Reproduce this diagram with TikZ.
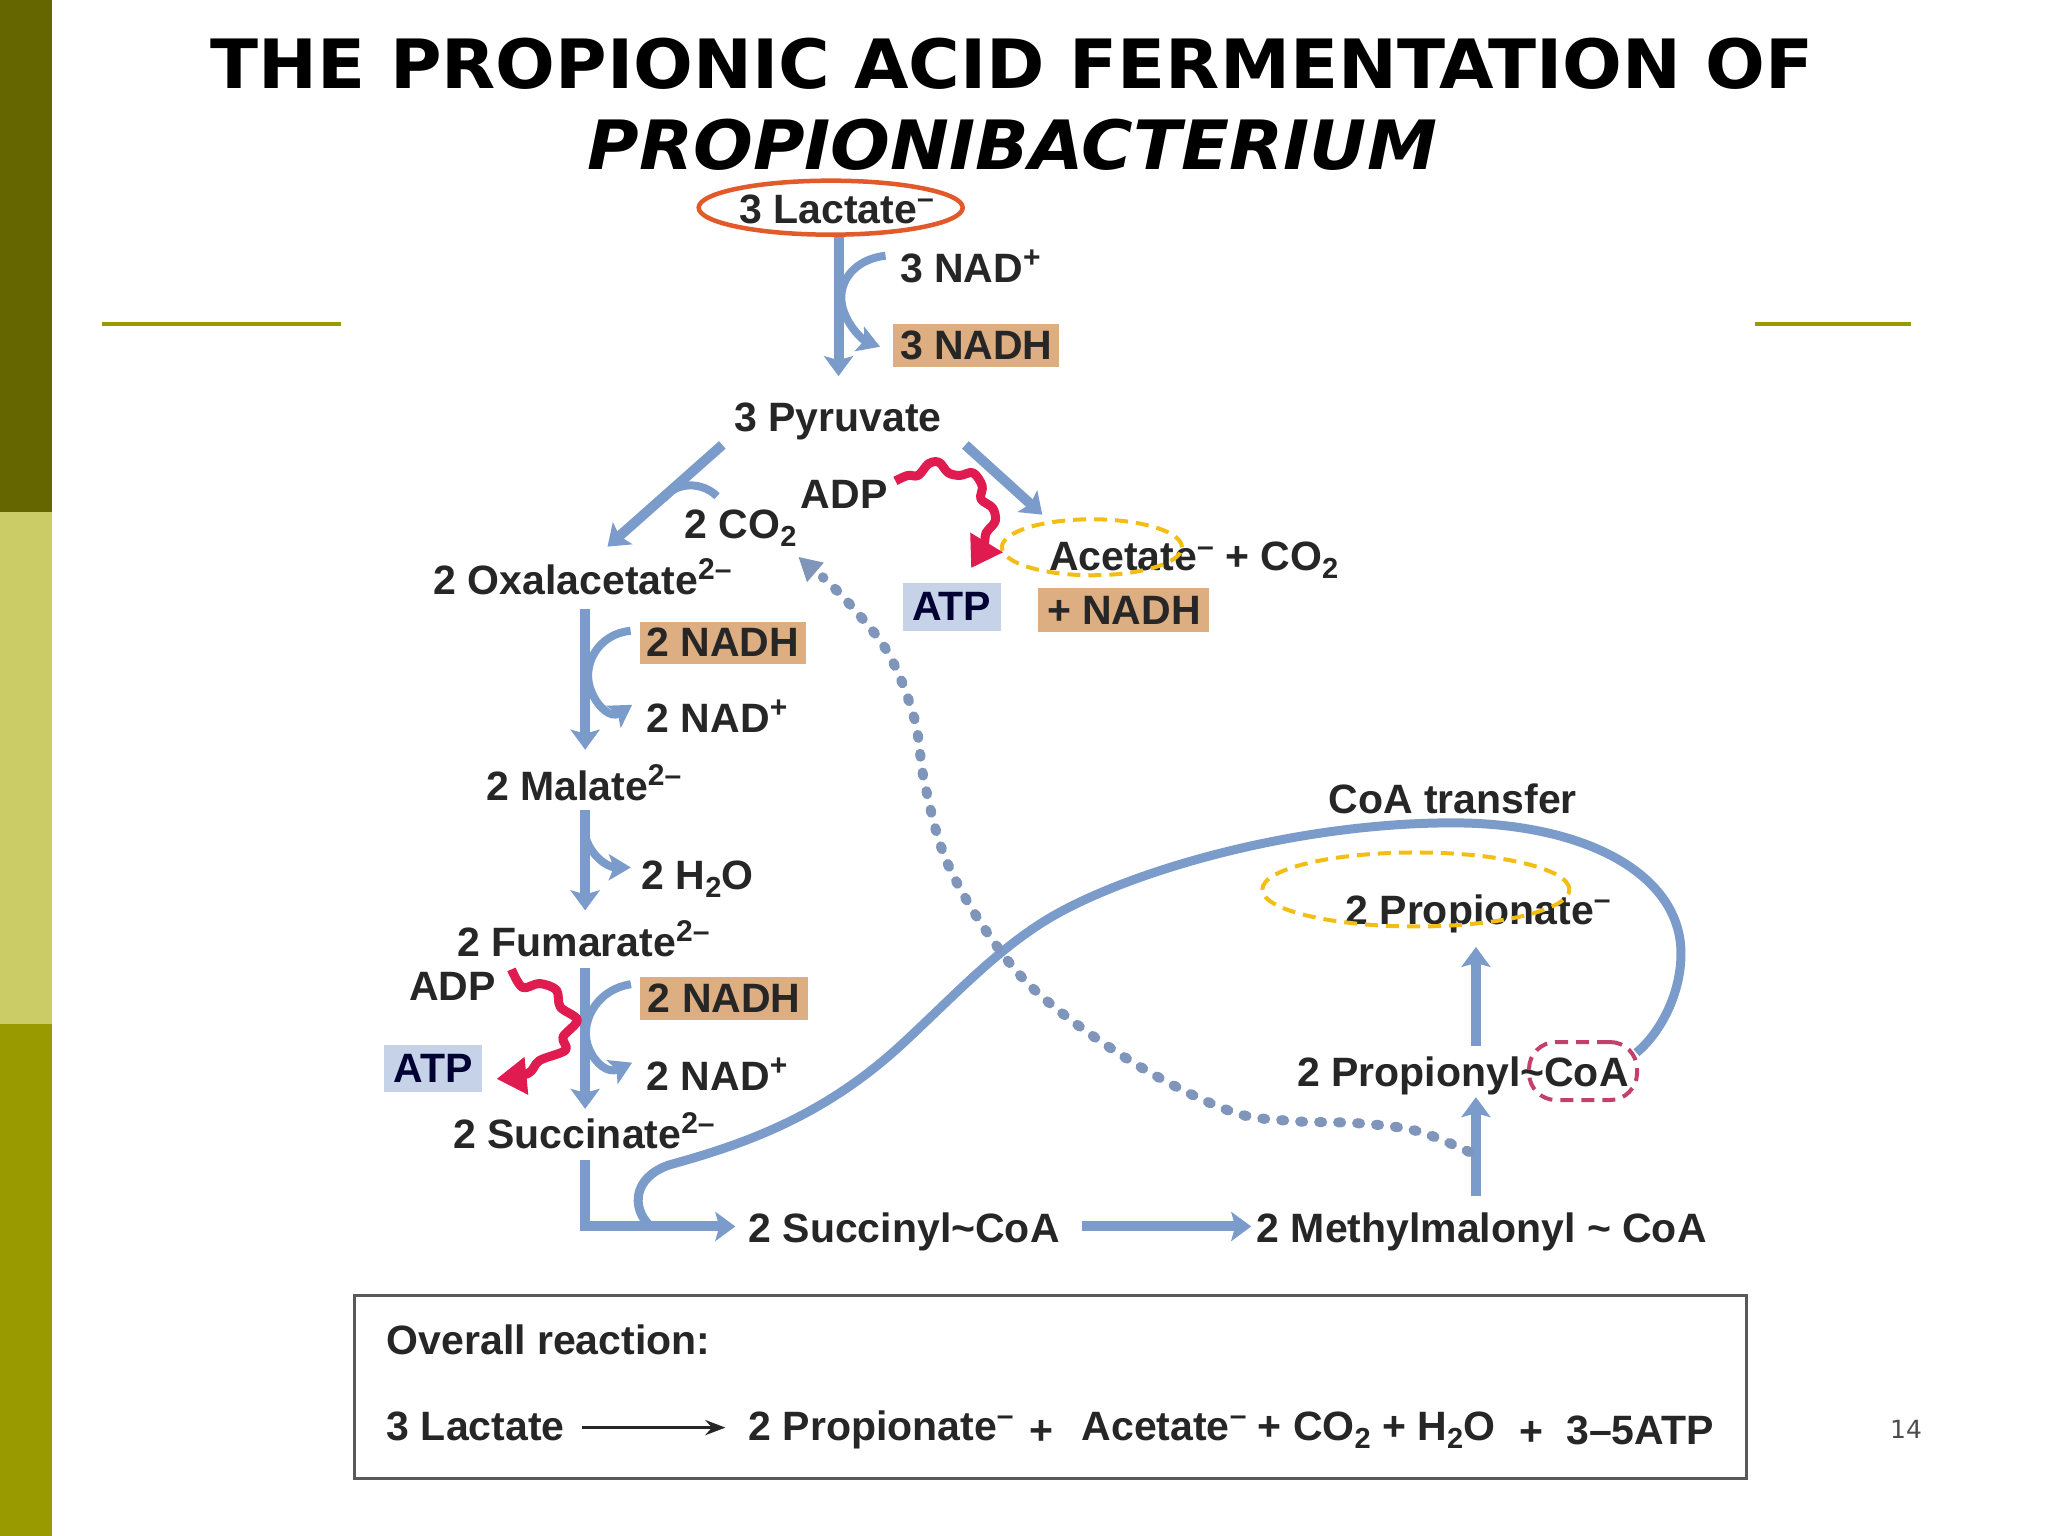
\documentclass[tikz,border=0pt]{standalone}
\usepackage{fontspec}
\setmainfont{Liberation Sans}
\newfontfamily\titlefont[FakeStretch=1.035]{DejaVu Sans}
\newfontfamily\pagefont{DejaVu Sans}
\usetikzlibrary{arrows.meta,shapes.geometric,calc}
\definecolor{flowc}{HTML}{7B9CCB}
\definecolor{dotc}{HTML}{7F95BA}
\definecolor{redc}{HTML}{E01B50}
\definecolor{nadhc}{HTML}{DDAE82}
\definecolor{atpc}{HTML}{C5D2E8}
\definecolor{inkc}{HTML}{262626}
\definecolor{olivea}{HTML}{666600}
\definecolor{oliveb}{HTML}{CCCC66}
\definecolor{olivec}{HTML}{999900}
\definecolor{ringo}{HTML}{E2592A}
\definecolor{ringy}{HTML}{F2BE14}
\definecolor{ringp}{HTML}{C2406A}
\newcommand\upx[1]{\raisebox{0.36em}{\fontsize{30}{30}\selectfont #1}}
\newcommand\dnx[1]{\raisebox{-0.2em}{\fontsize{29}{29}\selectfont #1}}
\tikzset{
  x=1.30612pt,y=-1.30612pt,
  lab/.style={anchor=base west,inner sep=0pt,text=inkc,yshift=-1.3pt,font=\fontsize{41}{44}\selectfont\bfseries},
  nadhbox/.style={fill=nadhc,inner sep=0pt,text=inkc,font=\fontsize{41}{44}\selectfont\bfseries},
  atpbox/.style={fill=atpc,inner sep=0pt,text=black!80!blue,font=\fontsize{41}{44}\selectfont\bfseries},
  flow/.style={line width=10pt,draw=flowc,-{Stealth[length=20pt,width=29pt,inset=4pt]}},
  side/.style={line width=8pt,draw=flowc,-{Stealth[length=22pt,width=26pt,inset=5pt]}},
  sidenotip/.style={line width=8pt,draw=flowc},
  wave/.style={line width=9pt,draw=redc,line join=round,-{Triangle[length=30pt,width=36pt]}},
  dotty/.style={line width=10pt,draw=dotc,line cap=round,dash pattern=on 3pt off 16pt},
  ringd/.style={draw=#1,inner sep=0pt,line width=4pt,dash pattern=on 13pt off 8pt},
}
\begin{document}
\begin{tikzpicture}
\useasboundingbox (0,0) rectangle (1568,1176);
\fill[white] (0,0) rectangle (1568,1176);
\fill[olivea] (0,0) rectangle (40,392);
\fill[oliveb] (0,392) rectangle (40,784);
\fill[olivec] (0,784) rectangle (40,1176);
\draw[olivec,line width=4pt] (78,248) -- (261,248);
\draw[olivec,line width=4pt] (1344,248) -- (1463,248);
\node[inner sep=0pt,anchor=base,font=\titlefont\fontsize{68}{72}\selectfont\bfseries] (t1) at (775,68) {THE PROPIONIC ACID FERMENTATION OF};
\node[inner sep=0pt,anchor=base,font=\titlefont\fontsize{68}{72}\selectfont\bfseries\itshape] (t2) at (775,130) {PROPIONIBACTERIUM};
\node[lab] (lac) at (566,170) {3 Lactate\upx{–}};
\node[lab] (nad3) at (689,215) {3 NAD\upx{+}};
\node[nadhbox,minimum width=166pt,minimum height=43pt] (nadh3) at (747.5,264.5) {3 NADH};
\node[lab] (pyr) at (562,329) {3 Pyruvate};
\node[lab] (co2a) at (524,411) {2 CO\dnx{2}};
\node[lab] (adpa) at (613,388) {ADP};
\node[lab] (ace) at (803,436) {Acetate\upx{–} + CO\dnx{2}};
\node[atpbox,minimum width=98pt,minimum height=48pt] (atpa) at (728.5,464.5) {ATP};
\node[nadhbox,minimum width=171pt,minimum height=44pt] (nadhp) at (860.5,467) {+ NADH};
\node[lab] (oxa) at (332,454) {2 Oxalacetate\upx{2–}};
\node[nadhbox,minimum width=166pt,minimum height=42pt] (nadh2a) at (553.5,492) {2 NADH};
\node[lab] (nad2a) at (495,560) {2 NAD\upx{+}};
\node[lab] (mal) at (372,612) {2 Malate\upx{2–}};
\node[lab] (hho) at (491,680) {2 H\dnx{2}O};
\node[lab] (fum) at (350,731) {2 Fumarate\upx{2–}};
\node[lab] (adpb) at (313,765) {ADP};
\node[nadhbox,minimum width=168pt,minimum height=43pt] (nadh2b) at (554.5,764.5) {2 NADH};
\node[atpbox,minimum width=98pt,minimum height=47pt] (atpb) at (331.5,818) {ATP};
\node[lab] (nad2b) at (495,834) {2 NAD\upx{+}};
\node[lab] (suc) at (347,878) {2 Succinate\upx{2–}};
\node[lab] (sucoa) at (573,950) {2 Succinyl\char"007E CoA};
\node[lab] (mmcoa) at (962,950) {2 Methylmalonyl \char"007E{} CoA};
\node[lab] (coat) at (1017,622) {CoA transfer};
\node[lab] (prop) at (1030,707) {2 Propionate\upx{–}};
\node[lab] (pcoa) at (993,831) {2 Propionyl\char"007E CoA};
% rings
\node[shape=ellipse,draw=ringo,inner sep=0pt,line width=4.5pt,minimum width=264pt,minimum height=54pt] (rlac) at (636,159) {};
\node[shape=ellipse,ringd=ringy,minimum width=180pt,minimum height=56pt] (race) at (836,419) {};
\node[shape=ellipse,ringd=ringy,minimum width=307pt,minimum height=74pt] (rprop) at (1084,681) {};
\node[shape=rectangle,rounded corners=27pt,ringd=ringp,minimum width=108pt,minimum height=58pt] (rcoa) at (1212,820) {};
% column coordinates
\coordinate (colA) at (642,0);
\coordinate (colB) at (448,0);
\coordinate (colC) at (1130,0);
\coordinate (s1) at ($(sucoa.west)+(-10,0)$);
\coordinate (s2) at ($(sucoa.east)+(17,0)$);
\coordinate (s3) at ($(mmcoa.west)+(-4,0)$);
\coordinate (jct) at (497,938);
% main flows
\draw[flow] (colA |- rlac.south) -- (colA |- 0,288);
\draw[side] ($(nad3.west)+(-11,-8)$) .. controls (650,199) and (637,222) .. (648,243) .. controls (653,254) and (662,261) .. ($(nadh3.west)+(-10,1)$);
\draw[flow] ($(pyr.south west)+(-9,4)$) -- ($(oxa.north)+(19,-9)$);
\draw[sidenotip] (508,382) .. controls (518,368) and (538,369) .. ($(co2a.north)+(-18,-10)$);
\draw[flow] ($(pyr.south east)+(18,4)$) -- ($(race.north)+(-38,-2)$);
\draw[wave] plot[smooth,tension=0.55] coordinates {($(adpa.east)+(6,-10)$) (695,364) (703,364) (711,355) (719,354) (726,362) (735,364) (745,362) (752,372) (751,382) (760,389) (762,399) (755,408) (753,418)  ($(atpa.north)+(15,-11)$)};
\draw[flow] (colB |- 0,466) -- (colB |- 0,574);
\draw[side] ($(nadh2a.west)+(-7,-9)$) .. controls (458,485) and (444,510) .. (453,530) .. controls (458,542) and (468,550) .. ($(nad2a.west)+(-11,-9)$);
\draw[flow] (colB |- 0,620) -- (colB |- 0,697);
\draw[side] (448,640) .. controls (452,655) and (465,664) .. ($(hho.west)+(-8,-9)$);
\draw[flow] (colB |- 0,741) -- (colB |- 0,849);
\draw[side] ($(nadh2b.west)+(-7,-11)$) .. controls (455,758) and (443,785) .. (451,803) .. controls (456,815) and (466,822) .. ($(nad2b.west)+(-11,-9)$);
\draw[wave] plot[smooth,tension=0.55] coordinates {($(adpb.east)+(12,-13)$) (400,756) (413,753) (426,758) (429,771) (442,781) (431,794) (433,804) (413,812) (404,822) ($(atpb.east)+(11,8)$)};
\draw[flow] (colB |- 0,888) -- (colB |- 0,939) -- (s1 |- 0,939);
\draw[flow] (s2 |- 0,939) -- (s3 |- 0,939);
\draw[flow] (colC |- 0,916) -- (colC |- 0,840);
\draw[flow] (colC |- 0,801) -- (colC |- 0,725);
% big transfer curve
\draw[line width=9pt,draw=flowc] (jct) .. controls (484,925) and (484,902) .. (512,892) .. controls (570,876) and (630,855) .. (690,800) .. controls (730,763) and (760,730) .. (800,705) .. controls (860,668) and (990,630) .. (1112,630) .. controls (1215,630) and (1287,670) .. (1287,730) .. controls (1287,760) and (1272,790) .. ($(rcoa.east)+(-2,-14)$);
% dotted return
\draw[dotty] plot[smooth,tension=0.6] coordinates {(1125,882) (1085,866) (1040,860) (985,858) (940,850) (870,815) (800,765) (760,720) (725,660) (708,600) (700,550) (680,500) (650,462) (630,442)};
\draw[draw=dotc,line width=1pt,fill=dotc] (612,427) -- (630,431) -- (618,445) -- cycle;
% overall box
\node[draw=black!65,line width=3pt,minimum width=1392pt,minimum height=183pt,inner sep=0pt] (box) at (804,1062) {};
\node[lab] (ov) at (296,1036) {Overall reaction:};
\node[lab] (l3) at (296,1102) {3 Lactate};
\node[lab] (r1) at (573,1102) {2 Propionate\upx{–}};
\node[lab] (pl1) at (788,1105) {+};
\node[lab] (r2) at (828,1102) {Acetate\upx{–} + CO\dnx{2} + H\dnx{2}O};
\node[lab] (pl2) at (1163,1106) {+};
\node[lab] (r3) at (1199,1105) {3–5ATP};
\draw[line width=3.5pt,draw=inkc,shorten <=17pt,shorten >=23pt,-{Stealth[length=20pt,width=15pt]}] (l3.east |- 0,1093) -- (r1.west |- 0,1093);
\node[anchor=base west,inner sep=0pt,font=\pagefont\fontsize{25}{28}\selectfont,text=black!70] (pg) at (1447,1101) {14};
\end{tikzpicture}
\end{document}
